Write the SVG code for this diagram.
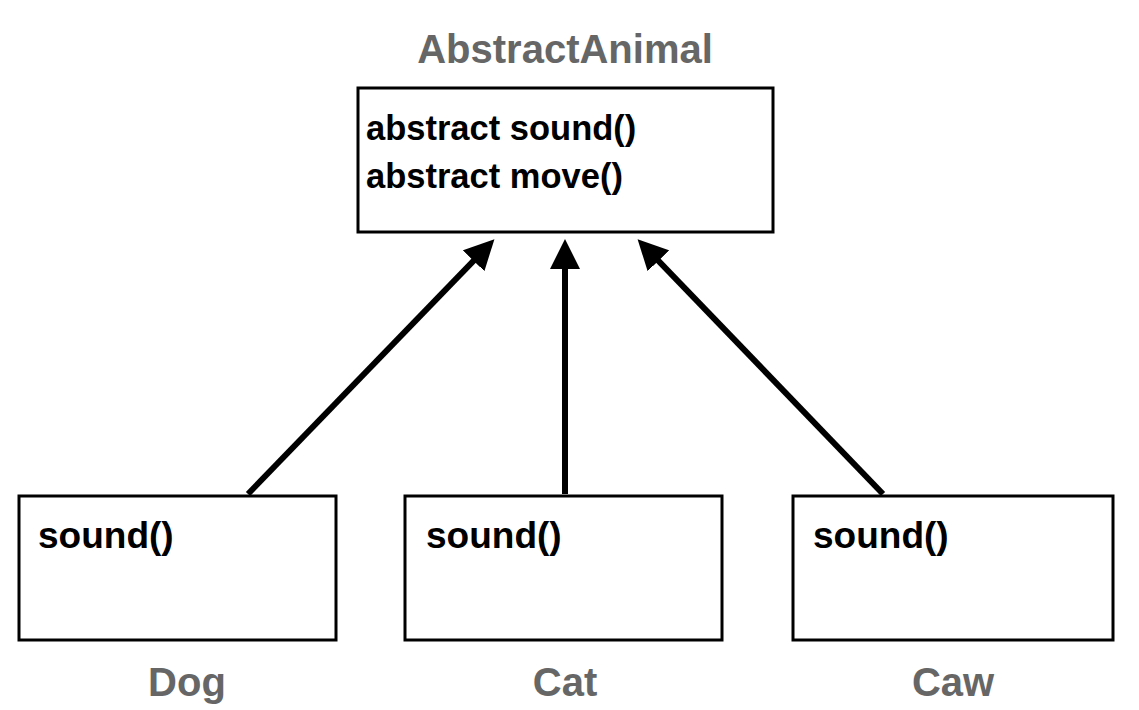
<svg xmlns="http://www.w3.org/2000/svg" width="1139" height="710" viewBox="0 0 1139 710">
<defs>
<style>
.box{fill:#fff;stroke:#000;stroke-width:3}
.t{font-family:"Liberation Sans",Arial,sans-serif;font-weight:bold;font-size:34.5px;fill:#000}
.s{font-family:"Liberation Sans",Arial,sans-serif;font-weight:bold;font-size:37px;fill:#000}
.l{font-family:"Liberation Sans",Arial,sans-serif;font-weight:bold;font-size:40px;fill:#666;text-anchor:middle}
.c{stroke:#000;stroke-width:6;fill:none;marker-end:url(#a)}
</style>
<marker id="a" markerWidth="5" markerHeight="5" refX="2.5" refY="2.5" orient="auto" markerUnits="strokeWidth" viewBox="0 0 5 5"><path d="M0,0 L5,2.5 L0,5 Z" fill="#000"/></marker>
</defs>
<rect width="1139" height="710" fill="#fff"/>
<g id="connectors">
<line class="c" x1="248" y1="494" x2="484" y2="250"/>
<line class="c" x1="565" y1="494" x2="565" y2="254"/>
<line class="c" x1="883" y1="494" x2="648" y2="250"/>
</g>
<g id="abstract">
<text class="l" x="565" y="63">AbstractAnimal</text>
<rect class="box" x="358" y="88" width="415" height="144"/>
<text class="t" x="366" y="140">abstract sound()</text>
<text class="t" x="366" y="188">abstract move()</text>
</g>
<g id="dog">
<rect class="box" x="19" y="496" width="317" height="144"/>
<text class="s" x="38" y="548">sound()</text>
<text class="l" x="187" y="696">Dog</text>
</g>
<g id="cat">
<rect class="box" x="405" y="496" width="317" height="144"/>
<text class="s" x="426" y="548">sound()</text>
<text class="l" x="565" y="696">Cat</text>
</g>
<g id="caw">
<rect class="box" x="793" y="496" width="320" height="144"/>
<text class="s" x="813" y="548">sound()</text>
<text class="l" x="953" y="696">Caw</text>
</g>
</svg>
